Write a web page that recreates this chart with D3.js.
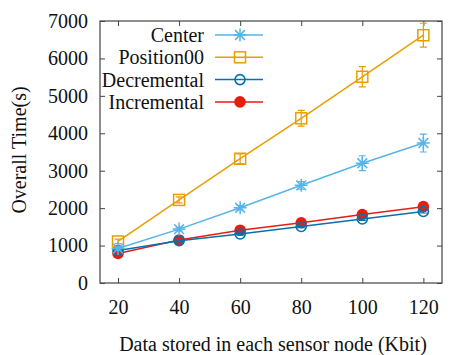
<!DOCTYPE html>
<html><head><meta charset="utf-8">
<script src="https://cdn.jsdelivr.net/npm/d3@7"></script>
<style>body{margin:0;background:#fff}svg{display:block}text{font-family:"Liberation Serif","Times New Roman",Times,"DejaVu Serif",serif !important;fill:#111}</style>
</head><body>
<svg id="c" width="474" height="355"></svg>
<script>
const xValues = [20, 40, 60, 80, 100, 120];
const centerVals = [920, 1440, 2010, 2610, 3200, 3740];
const centerErr = [40, 50, 60, 100, 200, 240];
const position00Vals = [1110, 2220, 3320, 4400, 5510, 6620];
const position00Err = [60, 80, 130, 210, 270, 320];
const decrementalVals = [870, 1130, 1310, 1510, 1710, 1910];
const decrementalErr = [20, 30, 30, 30, 40, 40];
const incrementalVals = [790, 1150, 1410, 1610, 1830, 2040];
const incrementalErr = [30, 40, 40, 40, 50, 60];
const seriesNames = ["Center", "Position00", "Decremental", "Incremental"];
const xTicks = [20, 40, 60, 80, 100, 120];
const yTicks = [0, 1000, 2000, 3000, 4000, 5000, 6000, 7000];
const xTitle = "Data stored in each sensor node (Kbit)";
const yTitle = "Overall Time(s)";

const series = [
  {name: seriesNames[0], vals: centerVals, err: centerErr, color: "#56B4E9", marker: "star"},
  {name: seriesNames[1], vals: position00Vals, err: position00Err, color: "#E69F00", marker: "square"},
  {name: seriesNames[2], vals: decrementalVals, err: decrementalErr, color: "#0072B2", marker: "circle"},
  {name: seriesNames[3], vals: incrementalVals, err: incrementalErr, color: "#E51E10", marker: "dot"}
];

const svg = d3.select("#c");
const L = 100, R = 442, T = 21, B = 283;
const x = d3.scaleLinear().domain([14.1, 126.1]).range([L, R]);
const y = d3.scaleLinear().domain([0, 7000]).range([B, T]);
const axisColor = "#444";

const g = svg.append("g");
const tickLen = 5;
const ax = d3.axisBottom(x).tickValues(xTicks).tickSize(-tickLen).tickPadding(17).tickFormat(d3.format("d"));
g.append("g").attr("transform", `translate(0,${B})`).call(ax);
const ay = d3.axisLeft(y).tickValues(yTicks).tickSize(-tickLen).tickPadding(12).tickFormat(d3.format("d"));
g.append("g").attr("transform", `translate(${L},0)`).call(ay);
const axT = d3.axisTop(x).tickValues(xTicks).tickSize(-tickLen).tickFormat("");
g.append("g").attr("transform", `translate(0,${T})`).call(axT);
const ayR = d3.axisRight(y).tickValues(yTicks).tickSize(-tickLen).tickFormat("");
g.append("g").attr("transform", `translate(${R},0)`).call(ayR);
g.selectAll("g").attr("font-family", null);
g.selectAll(".domain").remove();
g.selectAll(".tick line").attr("stroke", axisColor).attr("stroke-width", 1);
g.selectAll(".tick text").style("font-size", "20px").attr("fill", "#111");
svg.append("rect").attr("x", L).attr("y", T).attr("width", R - L).attr("height", B - T)
  .attr("fill", "none").attr("stroke", axisColor).attr("stroke-width", 1.2);

svg.append("text").attr("x", (L + R) / 2 + 2).attr("y", 351).attr("text-anchor", "middle")
  .style("font-size", "20px").text(xTitle);
svg.append("text").attr("transform", `translate(26,${(T + B) / 2 - 2}) rotate(-90)`).attr("text-anchor", "middle")
  .style("font-size", "20px").text(yTitle);

function drawMarker(sel, type, color, cx, cy) {
  if (type === "star") {
    const s = 6.5;
    const p = `M${cx - s},${cy}H${cx + s}M${cx},${cy - s}V${cy + s}M${cx - s * 0.75},${cy - s * 0.75}L${cx + s * 0.75},${cy + s * 0.75}M${cx - s * 0.75},${cy + s * 0.75}L${cx + s * 0.75},${cy - s * 0.75}`;
    sel.append("path").attr("d", p).attr("stroke", color).attr("stroke-width", 1.5).attr("fill", "none");
  } else if (type === "square") {
    sel.append("rect").attr("x", cx - 5.5).attr("y", cy - 5.5).attr("width", 11).attr("height", 11)
      .attr("fill", "none").attr("stroke", color).attr("stroke-width", 1.5);
  } else if (type === "circle") {
    sel.append("circle").attr("cx", cx).attr("cy", cy).attr("r", 5).attr("fill", "none")
      .attr("stroke", color).attr("stroke-width", 1.6);
  } else {
    sel.append("circle").attr("cx", cx).attr("cy", cy).attr("r", 5.8).attr("fill", color);
  }
}

const line = d3.line().x(d => x(d[0])).y(d => y(d[1]));
const plot = svg.append("g");
series.slice().reverse().forEach(s => {
  const pts = xValues.map((xv, i) => [xv, s.vals[i], s.err[i]]);
  const sg = plot.append("g");
  sg.append("path").attr("d", line(pts)).attr("fill", "none").attr("stroke", s.color).attr("stroke-width", 1.5);
  pts.forEach(p => {
    const cx = x(p[0]), y1 = y(p[1] - p[2]), y2 = y(p[1] + p[2]);
    sg.append("path").attr("d", `M${cx},${y1}V${y2}M${cx - 3.5},${y1}H${cx + 3.5}M${cx - 3.5},${y2}H${cx + 3.5}`)
      .attr("stroke", s.color).attr("stroke-width", 1.2).attr("fill", "none");
    drawMarker(sg, s.marker, s.color, cx, y(p[1]));
  });
});

const lg = svg.append("g");
series.forEach((s, i) => {
  const ly = 35 + i * 22.3;
  lg.append("text").attr("x", 204).attr("y", ly + 7).attr("text-anchor", "end")
    .style("font-size", "20px").text(s.name);
  lg.append("line").attr("x1", 215).attr("x2", 263).attr("y1", ly).attr("y2", ly)
    .attr("stroke", s.color).attr("stroke-width", 1.5);
  drawMarker(lg, s.marker, s.color, 240, ly);
});
</script>
</body></html>
